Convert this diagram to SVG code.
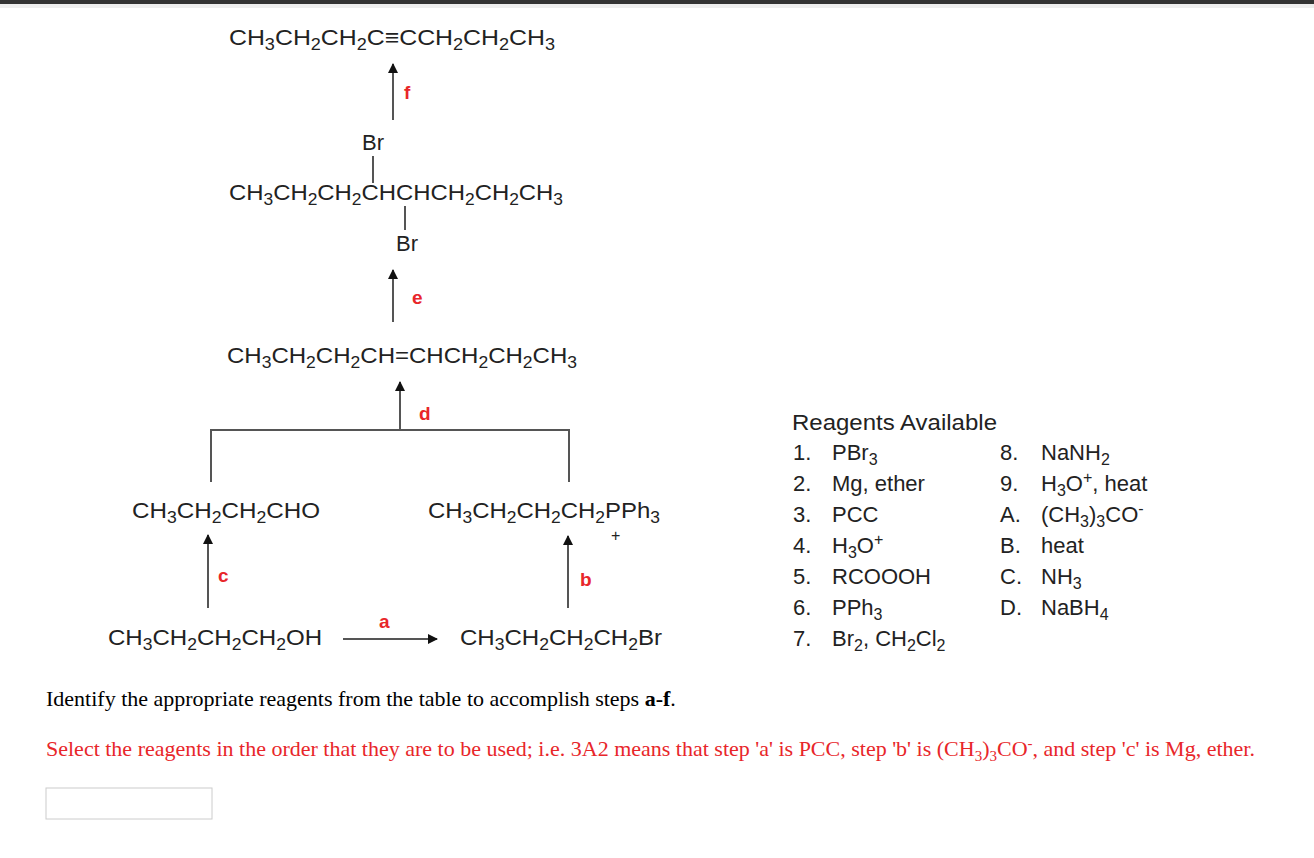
<svg xmlns="http://www.w3.org/2000/svg" width="1314" height="858" viewBox="0 0 1314 858">
<style>
.f{font-family:"Liberation Sans",Arial,sans-serif;font-size:22px;fill:#222}
.s{font-size:16px}
.l{font-family:"Liberation Sans",Arial,sans-serif;font-size:19px;font-weight:bold;fill:#e8262a}
.t{font-family:"Liberation Serif","Times New Roman",serif;font-size:22px}
.ln{stroke:#555;stroke-width:2;fill:none}
</style>
<defs><marker id="ah" markerWidth="10" markerHeight="10" refX="9" refY="5" orient="auto" markerUnits="userSpaceOnUse"><path d="M0,0 L10,5 L0,10 Z" fill="#111"/></marker></defs>
<rect x="0" y="0" width="1314" height="858" fill="#fff"/>
<rect x="0" y="0" width="1314" height="4" fill="#333"/>
<rect x="0" y="4" width="1314" height="4" fill="#eee"/>
<g id="n1"><text class="f" x="229" y="45" textLength="326" lengthAdjust="spacingAndGlyphs">CH<tspan class="s" dy="5">3</tspan><tspan dy="-5">CH</tspan><tspan class="s" dy="5">2</tspan><tspan dy="-5">CH</tspan><tspan class="s" dy="5">2</tspan><tspan dy="-5">C≡CCH</tspan><tspan class="s" dy="5">2</tspan><tspan dy="-5">CH</tspan><tspan class="s" dy="5">2</tspan><tspan dy="-5">CH</tspan><tspan class="s" dy="5">3</tspan></text></g>
<g id="n2"><text class="f" x="362" y="150">Br</text><line class="ln" x1="373" y1="156" x2="373" y2="183"/><text class="f" x="229" y="200" textLength="334" lengthAdjust="spacingAndGlyphs">CH<tspan class="s" dy="5">3</tspan><tspan dy="-5">CH</tspan><tspan class="s" dy="5">2</tspan><tspan dy="-5">CH</tspan><tspan class="s" dy="5">2</tspan><tspan dy="-5">CHCHCH</tspan><tspan class="s" dy="5">2</tspan><tspan dy="-5">CH</tspan><tspan class="s" dy="5">2</tspan><tspan dy="-5">CH</tspan><tspan class="s" dy="5">3</tspan></text><line class="ln" x1="405" y1="206" x2="405" y2="230"/><text class="f" x="396" y="251">Br</text></g>
<g id="n3"><text class="f" x="227" y="363" textLength="350" lengthAdjust="spacingAndGlyphs">CH<tspan class="s" dy="5">3</tspan><tspan dy="-5">CH</tspan><tspan class="s" dy="5">2</tspan><tspan dy="-5">CH</tspan><tspan class="s" dy="5">2</tspan><tspan dy="-5">CH=CHCH</tspan><tspan class="s" dy="5">2</tspan><tspan dy="-5">CH</tspan><tspan class="s" dy="5">2</tspan><tspan dy="-5">CH</tspan><tspan class="s" dy="5">3</tspan></text></g>
<g id="n4"><text class="f" x="132" y="518" textLength="188" lengthAdjust="spacingAndGlyphs">CH<tspan class="s" dy="5">3</tspan><tspan dy="-5">CH</tspan><tspan class="s" dy="5">2</tspan><tspan dy="-5">CH</tspan><tspan class="s" dy="5">2</tspan><tspan dy="-5">CHO</tspan></text></g>
<g id="n5"><text class="f" x="428" y="518" textLength="232" lengthAdjust="spacingAndGlyphs">CH<tspan class="s" dy="5">3</tspan><tspan dy="-5">CH</tspan><tspan class="s" dy="5">2</tspan><tspan dy="-5">CH</tspan><tspan class="s" dy="5">2</tspan><tspan dy="-5">CH</tspan><tspan class="s" dy="5">2</tspan><tspan dy="-5">PPh</tspan><tspan class="s" dy="5">3</tspan></text><text class="f s" x="611" y="541">+</text></g>
<g id="n6"><text class="f" x="108" y="645" textLength="214" lengthAdjust="spacingAndGlyphs">CH<tspan class="s" dy="5">3</tspan><tspan dy="-5">CH</tspan><tspan class="s" dy="5">2</tspan><tspan dy="-5">CH</tspan><tspan class="s" dy="5">2</tspan><tspan dy="-5">CH</tspan><tspan class="s" dy="5">2</tspan><tspan dy="-5">OH</tspan></text></g>
<g id="n7"><text class="f" x="460" y="645" textLength="202" lengthAdjust="spacingAndGlyphs">CH<tspan class="s" dy="5">3</tspan><tspan dy="-5">CH</tspan><tspan class="s" dy="5">2</tspan><tspan dy="-5">CH</tspan><tspan class="s" dy="5">2</tspan><tspan dy="-5">CH</tspan><tspan class="s" dy="5">2</tspan><tspan dy="-5">Br</tspan></text></g>
<g id="connectors">
<line class="ln" x1="393" y1="120" x2="393" y2="64" marker-end="url(#ah)"/>
<line class="ln" x1="393" y1="322" x2="393" y2="270" marker-end="url(#ah)"/>
<line class="ln" x1="400" y1="430" x2="400" y2="382" marker-end="url(#ah)"/>
<polyline class="ln" points="211,482 211,430 569,430 569,482"/>
<line class="ln" x1="208" y1="608" x2="208" y2="535" marker-end="url(#ah)"/>
<line class="ln" x1="568" y1="608" x2="568" y2="536" marker-end="url(#ah)"/>
<line class="ln" x1="343" y1="639" x2="437" y2="639" marker-end="url(#ah)"/>
<text class="l" x="404" y="99">f</text>
<text class="l" x="412" y="304">e</text>
<text class="l" x="419" y="420">d</text>
<text class="l" x="218" y="582">c</text>
<text class="l" x="580" y="586">b</text>
<text class="l" x="379" y="628">a</text>
</g>
<g id="reagents" class="f">
<text x="792" y="430" textLength="205" lengthAdjust="spacingAndGlyphs">Reagents Available</text>
<text x="793" y="460">1.</text><text x="832" y="460">PBr<tspan class="s" dy="5">3</tspan></text>
<text x="793" y="491">2.</text><text x="832" y="491">Mg, ether</text>
<text x="793" y="522">3.</text><text x="832" y="522">PCC</text>
<text x="793" y="553">4.</text><text x="832" y="553">H<tspan class="s" dy="5">3</tspan><tspan dy="-5">O</tspan><tspan class="s" dy="-8">+</tspan></text>
<text x="793" y="584">5.</text><text x="832" y="584">RCOOOH</text>
<text x="793" y="615">6.</text><text x="832" y="615">PPh<tspan class="s" dy="5">3</tspan></text>
<text x="793" y="646">7.</text><text x="832" y="646">Br<tspan class="s" dy="5">2</tspan><tspan dy="-5">, CH</tspan><tspan class="s" dy="5">2</tspan><tspan dy="-5">Cl</tspan><tspan class="s" dy="5">2</tspan></text>
<text x="1000" y="460">8.</text><text x="1041" y="460">NaNH<tspan class="s" dy="5">2</tspan></text>
<text x="1000" y="491">9.</text><text x="1041" y="491">H<tspan class="s" dy="5">3</tspan><tspan dy="-5">O</tspan><tspan class="s" dy="-8">+</tspan><tspan dy="8">, heat</tspan></text>
<text x="1000" y="522">A.</text><text x="1041" y="522">(CH<tspan class="s" dy="5">3</tspan><tspan dy="-5">)</tspan><tspan class="s" dy="5">3</tspan><tspan dy="-5">CO</tspan><tspan class="s" dy="-8">-</tspan></text>
<text x="1000" y="553">B.</text><text x="1041" y="553">heat</text>
<text x="1000" y="584">C.</text><text x="1041" y="584">NH<tspan class="s" dy="5">3</tspan></text>
<text x="1000" y="615">D.</text><text x="1041" y="615">NaBH<tspan class="s" dy="5">4</tspan></text>
</g>
<text class="t" x="46" y="706" fill="#000">Identify the appropriate reagents from the table to accomplish steps <tspan font-weight="bold">a-f</tspan>.</text>
<text class="t" x="46" y="756" fill="#e8262a">Select the reagents in the order that they are to be used; i.e. 3A2 means that step 'a' is PCC, step 'b' is (CH<tspan font-size="15" dy="5">3</tspan><tspan dy="-5">)</tspan><tspan font-size="15" dy="5">3</tspan><tspan dy="-5">CO</tspan><tspan font-size="15" dy="-8">-</tspan><tspan dy="8">, and step 'c' is Mg, ether.</tspan></text>
<rect x="46" y="788" width="166" height="31" fill="#fff" stroke="#ccc"/>
</svg>
